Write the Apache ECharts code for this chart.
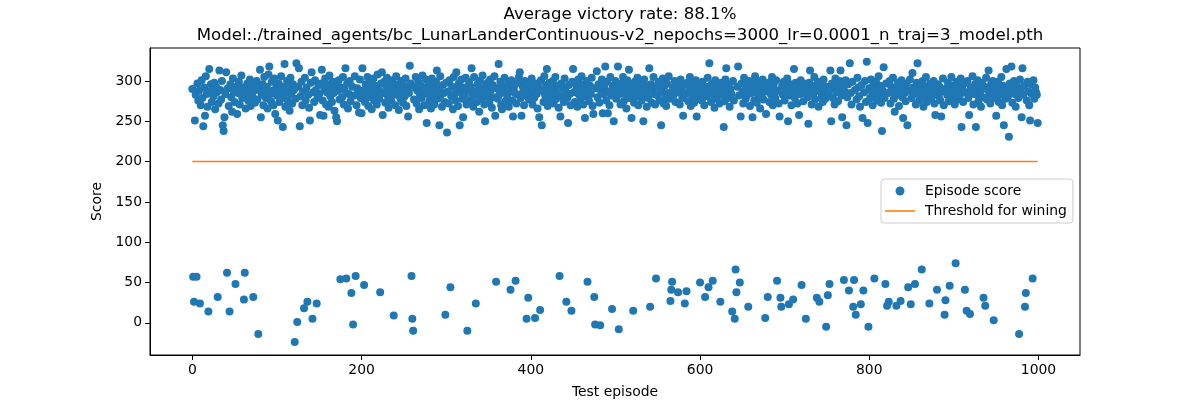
<!DOCTYPE html>
<html style="height: 100%">
   <head>
       <meta charset="utf-8">
   </head>
   <body style="height: 100%; margin: 0">
       <div id="container" style="width: 1200px; height: 400px"></div>
       <script type="text/javascript" src="https://cdn.jsdelivr.net/npm/echarts@6/dist/echarts.min.js"></script>
       <script type="text/javascript">
// scores of the 1000 test episodes, 25 episodes per row
var scores = [
    290,57,26,251,283,57,297,276,288,24,270,301,279,244,292,257,306,284,268,14,315,287,296,274,290,
    281,298,265,293,286,32,272,313,289,277,300,245,238,255,284,311,62,291,269,14,296,280,262,303,287,
    274,48,293,259,285,299,271,288,307,279,292,29,62,266,284,297,276,290,302,269,286,281,32,295,273,
    289,300,277,-14,292,314,255,283,296,270,305,287,279,293,266,308,318,284,275,299,288,270,303,259,291,
    282,251,297,274,288,306,279,243,293,321,268,285,300,276,291,263,304,284,272,296,289,-24,278,322,1,
    293,316,244,281,299,270,287,18,304,276,292,26,283,267,251,298,311,5,286,274,301,289,24,279,295,
    284,258,297,314,276,257,290,303,271,286,295,268,307,281,292,274,299,285,263,294,255,250,288,301,277,
    54,292,280,305,271,289,316,55,297,266,284,300,275,37,293,-2,282,306,58,270,291,286,261,302,279,
    260,316,288,47,274,296,283,305,269,292,280,299,265,287,303,276,294,284,271,308,289,278,38,297,311,
    258,285,299,273,290,304,281,267,295,287,276,301,284,9,292,270,306,283,296,264,289,278,300,286,273,
    294,281,303,269,290,256,285,319,297,58,5,-10,277,292,305,272,288,299,265,283,294,279,307,286,270,
    291,302,248,284,296,275,289,266,303,280,293,271,287,299,313,278,290,245,306,283,268,295,285,274,10,
    298,236,287,272,301,44,281,293,265,305,284,276,311,290,269,297,245,286,302,278,255,292,283,304,271,
    -10,289,299,276,293,316,282,268,305,287,24,274,296,283,262,300,290,277,307,285,271,250,294,281,298,
    286,273,302,289,267,295,280,306,257,51,291,278,321,284,299,270,265,293,287,304,275,290,282,297,268,
    288,41,301,276,256,292,285,52,272,298,283,305,311,279,257,294,287,270,300,282,5,291,31,277,296,
    285,303,271,290,279,6,297,284,266,293,255,16,301,245,288,274,306,282,295,315,269,287,298,276,292,
    283,300,272,289,305,278,294,285,267,58,256,297,281,292,274,303,288,26,279,248,295,284,270,15,299,
    315,286,274,297,290,268,302,283,293,277,306,287,271,296,254,281,300,51,289,275,294,284,304,269,259,
    32,-2,291,312,280,296,273,-3,288,302,260,284,293,318,276,299,260,287,270,305,282,17,294,250,286,
    300,278,292,318,-8,284,271,297,288,305,275,293,283,266,301,289,314,279,296,254,286,15,273,299,290,
    281,304,270,292,285,298,276,289,250,302,283,294,268,287,279,316,20,296,273,290,305,284,271,55,293,
    282,299,276,291,245,287,303,272,294,280,269,297,285,306,278,27,41,51,292,283,300,274,289,296,38,
    286,271,302,290,279,257,295,24,284,39,298,275,288,305,269,292,281,297,273,287,301,256,284,294,278,
    50,290,276,299,285,270,32,293,281,304,44,322,288,274,296,52,283,267,301,290,278,294,285,272,26,
    298,283,291,243,275,302,316,287,279,295,268,290,284,14,300,276,5,66,38,293,318,282,50,256,297,
    286,272,304,289,278,295,283,20,300,269,291,285,255,297,276,306,288,273,294,281,299,266,290,284,302,
    277,293,6,259,287,32,298,274,290,283,305,270,295,286,279,301,52,288,272,256,31,20,294,283,299,
    276,291,286,303,250,23,282,296,270,289,29,315,279,298,287,272,294,258,284,301,47,290,275,297,285,
    5,292,280,247,298,313,286,271,294,283,305,277,290,31,299,268,26,287,296,281,274,302,289,278,-5,
    293,34,284,48,313,250,297,279,290,271,303,286,295,275,288,300,313,282,255,294,53,287,301,245,280,
    296,40,322,285,271,299,20,53,289,10,277,304,292,281,268,23,295,254,40,286,300,274,324,248,-5,
    291,279,302,287,270,296,55,284,299,276,290,306,282,294,273,238,288,317,279,48,297,21,285,26,300,
    272,293,286,304,278,262,291,21,283,298,269,289,27,301,280,254,294,285,275,297,245,44,288,302,23,
    279,310,292,284,48,271,298,322,287,276,295,283,66,300,268,290,281,305,274,293,286,24,297,278,291,
    284,300,272,258,289,41,296,281,293,276,256,287,303,270,10,28,291,283,298,275,46,289,305,279,294,
    285,271,74,299,288,277,294,282,303,243,290,274,297,41,286,15,300,279,258,11,292,284,306,271,289,
    296,243,283,301,275,290,286,268,298,280,31,293,21,304,277,289,313,284,272,296,287,300,3,279,292,
    257,285,299,274,290,283,305,270,294,245,287,278,315,292,281,231,297,286,318,273,291,300,284,268,296,
    288,279,-14,302,290,255,316,283,294,20,37,276,299,287,270,251,296,284,55,301,278,292,286,283,248
];
var threshold = 200;
var xTicks = [0, 200, 400, 600, 800, 1000];
var yTicks = [0, 50, 100, 150, 200, 250, 300];
var titleLines = ['Average victory rate: 88.1%',
    'Model:./trained_agents/bc_LunarLanderContinuous-v2_nepochs=3000_lr=0.0001_n_traj=3_model.pth'];

var dom = document.getElementById("container");
var myChart = echarts.init(dom);
var font = 'DejaVu Sans';

var points = scores.map(function (s, i) { return [i, s]; });
var thresholdLine = [[0, threshold], [scores.length - 1, threshold]];

var axisCommon = {
    axisLine: { show: true, onZero: false, lineStyle: { color: '#000', width: 1 } },
    axisTick: { show: true, length: 5, lineStyle: { color: '#000' } },
    axisLabel: { color: '#000', fontFamily: font, fontSize: 13.9, formatter: function (v) { return String(v); } },
    splitLine: { show: false },
    nameTextStyle: { color: '#000', fontFamily: font, fontSize: 13.9 }
};

var option = {
    backgroundColor: '#fff',
    animation: false,
    title: {
        text: titleLines.join('\n'),
        left: 615,
        top: -1,
        textAlign: 'center',
        textStyle: { color: '#000', fontFamily: font, fontSize: 16.6, fontWeight: 'normal', lineHeight: 21 }
    },
    grid: {
        left: 150, right: 120, top: 48, bottom: 45,
        outerBoundsMode: 'none',
        show: true, borderColor: '#000', borderWidth: 1, backgroundColor: 'transparent'
    },
    legend: {
        left: 881,
        top: 179,
        orient: 'vertical',
        itemGap: 6,
        itemWidth: 30,
        itemHeight: 9,
        padding: [5, 6, 5, 4],
        backgroundColor: 'rgba(255,255,255,0.8)',
        borderColor: '#cccccc',
        borderWidth: 1,
        borderRadius: 3,
        textStyle: { color: '#000', fontFamily: font, fontSize: 13.9, padding: [0, 0, 0, 5] },
        data: [
            { name: 'Episode score', icon: 'circle' },
            { name: 'Threshold for wining', icon: 'path://M0,0 L30,0 L30,1.6 L0,1.6 Z' }
        ]
    },
    xAxis: Object.assign({}, axisCommon, {
        type: 'value',
        min: -50,
        max: 1049,
        name: 'Test episode',
        nameLocation: 'middle',
        nameGap: 30,
        axisTick: Object.assign({}, axisCommon.axisTick, { customValues: xTicks }),
        axisLabel: Object.assign({}, axisCommon.axisLabel, { customValues: xTicks, margin: 8 })
    }),
    yAxis: Object.assign({}, axisCommon, {
        type: 'value',
        min: -40,
        max: 341,
        name: 'Score',
        nameLocation: 'middle',
        nameGap: 43,
        axisTick: Object.assign({}, axisCommon.axisTick, { customValues: yTicks }),
        axisLabel: Object.assign({}, axisCommon.axisLabel, { customValues: yTicks, margin: 8 })
    }),
    series: [
        {
            name: 'Episode score',
            type: 'scatter',
            symbol: 'circle',
            symbolSize: 8,
            itemStyle: { color: '#1f77b4', opacity: 1 },
            data: points
        },
        {
            name: 'Threshold for wining',
            type: 'line',
            showSymbol: false,
            symbol: 'none',
            lineStyle: { color: '#ff7f0e', width: 1.5 },
            itemStyle: { color: '#ff7f0e' },
            data: thresholdLine
        }
    ]
};

myChart.setOption(option, true);
       </script>
   </body>
</html>
